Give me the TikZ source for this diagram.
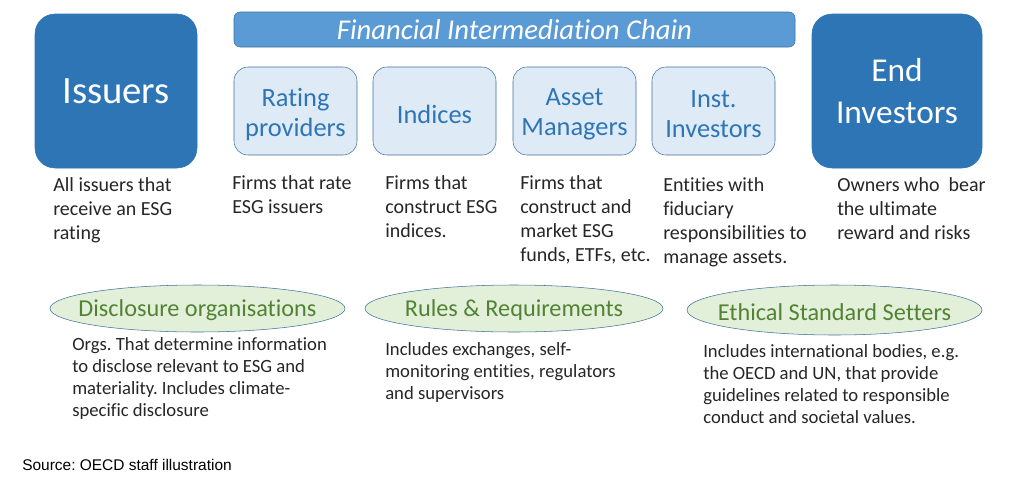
\documentclass[tikz,border=0pt]{standalone}
\usepackage{fontspec}
\setmainfont{Carlito}[Ligatures=NoCommon]
\newfontfamily\arialfont{Liberation Sans}
\frenchspacing
\usetikzlibrary{shapes.geometric}
\definecolor{darkblue}{HTML}{2E75B6}
\definecolor{midblue}{HTML}{5B9BD5}
\definecolor{edgeblue}{HTML}{41719C}
\definecolor{paleblue}{HTML}{DEEBF7}
\definecolor{palegreen}{HTML}{E2F0D9}
\definecolor{greentext}{HTML}{548235}
\definecolor{bodytext}{HTML}{262626}
\tikzset{
  bigbox/.style={draw=darkblue, fill=darkblue, rounded corners=15pt, minimum height=115.5pt,
    text=white, font=\fontsize{25}{31.5}\selectfont, align=center, inner sep=0pt},
  chainbar/.style={draw=edgeblue, fill=midblue, rounded corners=4.5pt, minimum width=420.75pt,
    minimum height=26.25pt, text=white, font=\fontsize{21.5}{24}\selectfont\itshape, inner sep=0pt},
  midbox/.style={draw=edgeblue, fill=paleblue, rounded corners=10.5pt, minimum width=92.25pt,
    minimum height=66pt, inner sep=0pt},
  midlabel/.style={text=darkblue, font=\fontsize{19.8}{22.5}\selectfont, align=center,
    inner sep=0pt, yshift=-2.5pt},
  oval/.style={ellipse, draw=edgeblue, fill=palegreen, minimum height=35.25pt, inner sep=0pt},
  ovallabel/.style={text=greentext, font=\fontsize{18.2}{20}\selectfont, inner sep=0pt, yshift=-1.5pt},
  desc/.style={anchor=north west, inner sep=0pt, align=left, text=bodytext,
    font=\fontsize{15}{18}\selectfont},
  descb/.style={desc, font=\fontsize{14}{16.5}\selectfont},
}
\begin{document}
\begin{tikzpicture}[x=0.75pt, y=-0.75pt]
\useasboundingbox[fill=white] (0,0) rectangle (1024,500);
% top row
\node[bigbox, minimum width=121.5pt, font=\fontsize{29}{31.5}\selectfont] (issuers) at (116,91) {Issuers};
\node[bigbox, minimum width=127.5pt] (endinv) at (897,91) {End\\Investors};
\node[chainbar] (chain) at (514.5,29.5) {Financial Intermediation Chain};
\node[midbox, label={[midlabel]center:Rating\\providers}] (rating) at (295.5,111) {};
\node[midbox, label={[midlabel]center:Indices}] (indices) at (434.5,111) {};
\node[midbox, label={[midlabel]center:Asset\\Managers}] (asset) at (574.5,111) {};
\node[midbox, label={[midlabel]center:Inst.\\Investors}] (inst) at (713.5,111) {};
% descriptions
\node[desc] (d1) at (53,177) {All issuers that\\receive an ESG\\rating};
\node[desc] (d2) at (232,175) {Firms that rate\\ESG issuers};
\node[desc] (d3) at (385,175) {Firms that\\construct ESG\\indices.};
\node[desc] (d4) at (520,175) {Firms that\\construct and\\market ESG\\funds, ETFs, etc.};
\node[desc] (d5) at (663,177) {Entities with\\fiduciary\\responsibilities to\\manage assets.};
\node[desc] (d6) at (837,177) {Owners who\ \ bear\\the ultimate\\reward and risks};
% ovals
\node[oval, minimum width=221.25pt, label={[ovallabel]center:Disclosure organisations}] (disc) at (197.5,308.5) {};
\node[oval, minimum width=223.5pt, label={[ovallabel]center:Rules \& Requirements}] (rules) at (514,308.5) {};
\node[oval, minimum width=221.25pt, minimum height=37.5pt, label={[ovallabel]center:Ethical Standard Setters}] (ethic) at (834.5,310) {};
\node[descb] (e1) at (72,337) {Orgs. That determine information\\to disclose relevant to ESG and\\materiality. Includes climate-\\specific disclosure};
\node[descb] (e2) at (385,342) {Includes exchanges, self-\\monitoring entities, regulators\\and supervisors};
\node[descb] (e3) at (703,344) {Includes international bodies, e.g.\\the OECD and UN, that provide\\guidelines related to responsible\\conduct and societal values.};
% source
\node[anchor=west, inner sep=0pt, font=\arialfont\fontsize{11.6}{13}\selectfont, text=black] (src) at (22,465) {Source: OECD staff illustration};
\end{tikzpicture}
\end{document}
